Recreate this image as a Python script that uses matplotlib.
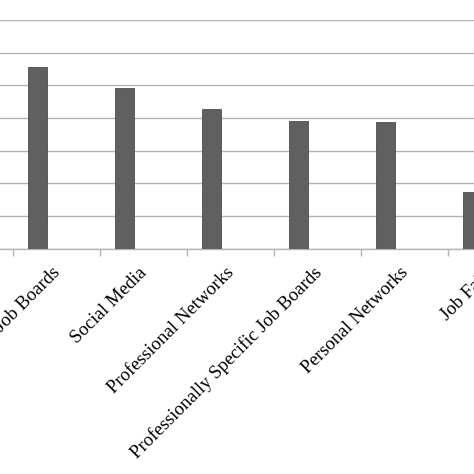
import numpy as np
import matplotlib.pyplot as plt
from matplotlib.transforms import ScaledTranslation

categories = ["General Job Boards", "Social Media", "Professional Networks",
              "Professionally Specific Job Boards", "Personal Networks", "Job Fairs"]
values = [55.7, 49.3, 42.8, 39.2, 38.9, 17.4]
y_ticks = [0, 10, 20, 30, 40, 50, 60, 70]

plt.rcParams['font.family'] = ['Liberation Serif', 'DejaVu Serif']

W = H = 474
fig = plt.figure(figsize=(4.74, 4.74), dpi=100)

# the source image is a crop: axes run off both sides of the picture
step = 86.94          # px per category
c0 = 56.8             # px centre of first category
xmin, xmax = -0.8, 5.6
left_px = c0 + xmin * step
right_px = c0 + xmax * step
base_px, top_px = 248.7, 20.0
ax = fig.add_axes([left_px / W, 1 - base_px / H,
                   (right_px - left_px) / W, (base_px - top_px) / H])

x = np.arange(len(categories))
ax.bar(x - 0.22, values, width=0.215, color='#606060', edgecolor='#4d4d4d',
       linewidth=0.6, zorder=3)

ax.set_xlim(xmin, xmax)
ax.set_ylim(0, 70)
ax.set_yticks(y_ticks)
ax.yaxis.grid(True, color='#b4b4b4', lw=1.0, zorder=0)
ax.tick_params(axis='y', length=0, labelleft=False)

for s in ['top', 'right', 'left']:
    ax.spines[s].set_visible(False)
ax.spines['bottom'].set_color('#b4b4b4')
ax.spines['bottom'].set_linewidth(1.0)

ax.set_xticks(x)
ax.set_xticklabels(categories, rotation=45, ha='right', rotation_mode='anchor',
                   fontsize=13.5)
ax.tick_params(axis='x', which='major', length=0, pad=11)
shift = ScaledTranslation(-5 / 100, 0, fig.dpi_scale_trans)
for lbl in ax.get_xticklabels():
    lbl.set_transform(lbl.get_transform() + shift)
ax.set_xticks(np.arange(-0.5, len(categories)), minor=True)
ax.tick_params(axis='x', which='minor', length=5, color='#b4b4b4', width=1.0)

fig.savefig("out.png", dpi=100)
